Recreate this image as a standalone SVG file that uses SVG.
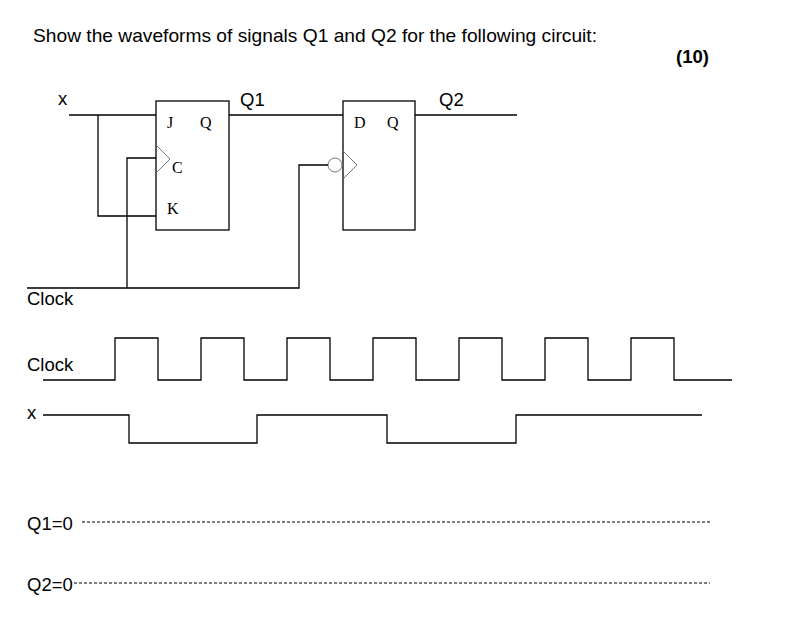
<svg xmlns="http://www.w3.org/2000/svg" width="787" height="633" viewBox="0 0 787 633">
<style>
.w{fill:none;stroke:#000;stroke-width:1.3}
.g{fill:none;stroke:#777;stroke-width:1}
.s{font-family:"Liberation Sans",Arial,sans-serif;font-size:18.5px}
.t{font-family:"Liberation Serif","Times New Roman",serif;font-size:16px}
.d{fill:none;stroke:#000;stroke-width:1.2;stroke-dasharray:3,2}
</style>
<rect width="787" height="633" fill="#fff"/>
<text class="s" x="33" y="42" textLength="564" lengthAdjust="spacingAndGlyphs">Show the waveforms of signals Q1 and Q2 for the following circuit:</text>
<text class="s" x="676" y="63" font-weight="bold">(10)</text>
<g id="jk">
<rect class="w" x="156" y="101" width="73" height="129"/>
<polyline class="g" points="156,145 170,159 156,173"/>
<text class="t" x="167" y="128">J</text><text class="t" x="200" y="128">Q</text>
<text class="t" x="172" y="173">C</text><text class="t" x="167" y="214">K</text>
</g>
<g id="d">
<rect class="w" x="343" y="101" width="72" height="129"/>
<polyline class="g" points="343,151 357,165 343,179"/>
<circle class="g" cx="335" cy="165" r="7"/>
<text class="t" x="354" y="128">D</text><text class="t" x="387" y="128">Q</text>
</g>
<g id="labels" class="s">
<text x="58" y="105">x</text><text x="240" y="106">Q1</text><text x="439" y="106">Q2</text>
<text x="27" y="305">Clock</text>
<text x="27" y="371">Clock</text><text x="27" y="419">x</text>
<text x="27" y="530">Q1=0</text><text x="27" y="591">Q2=0</text>
</g>
<g id="connectors">
<polyline class="w" points="69,115 156,115"/>
<polyline class="w" points="98,115 98,216 156,216"/>
<polyline class="w" points="27,288 299,288 299,165 328,165"/>
<polyline class="w" points="127,288 127,158 156,158"/>
<polyline class="w" points="229,115 343,115"/>
<polyline class="w" points="415,115 517,115"/>
<polyline class="w" points="43,380 115,380 115,338 158,338 158,380 201,380 201,338 244,338 244,380 287,380 287,338 330,338 330,380 373,380 373,338 416,338 416,380 459,380 459,338 502,338 502,380 545,380 545,338 588,338 588,380 631,380 631,338 674,338 674,380 732,380"/>
<polyline class="w" points="43,415 129,415 129,443 257,443 257,415 387,415 387,443 516,443 516,415 702,415"/>
<line class="d" x1="82" y1="522" x2="710" y2="522"/>
<line class="d" x1="74" y1="583" x2="710" y2="583"/>
</g>
</svg>
